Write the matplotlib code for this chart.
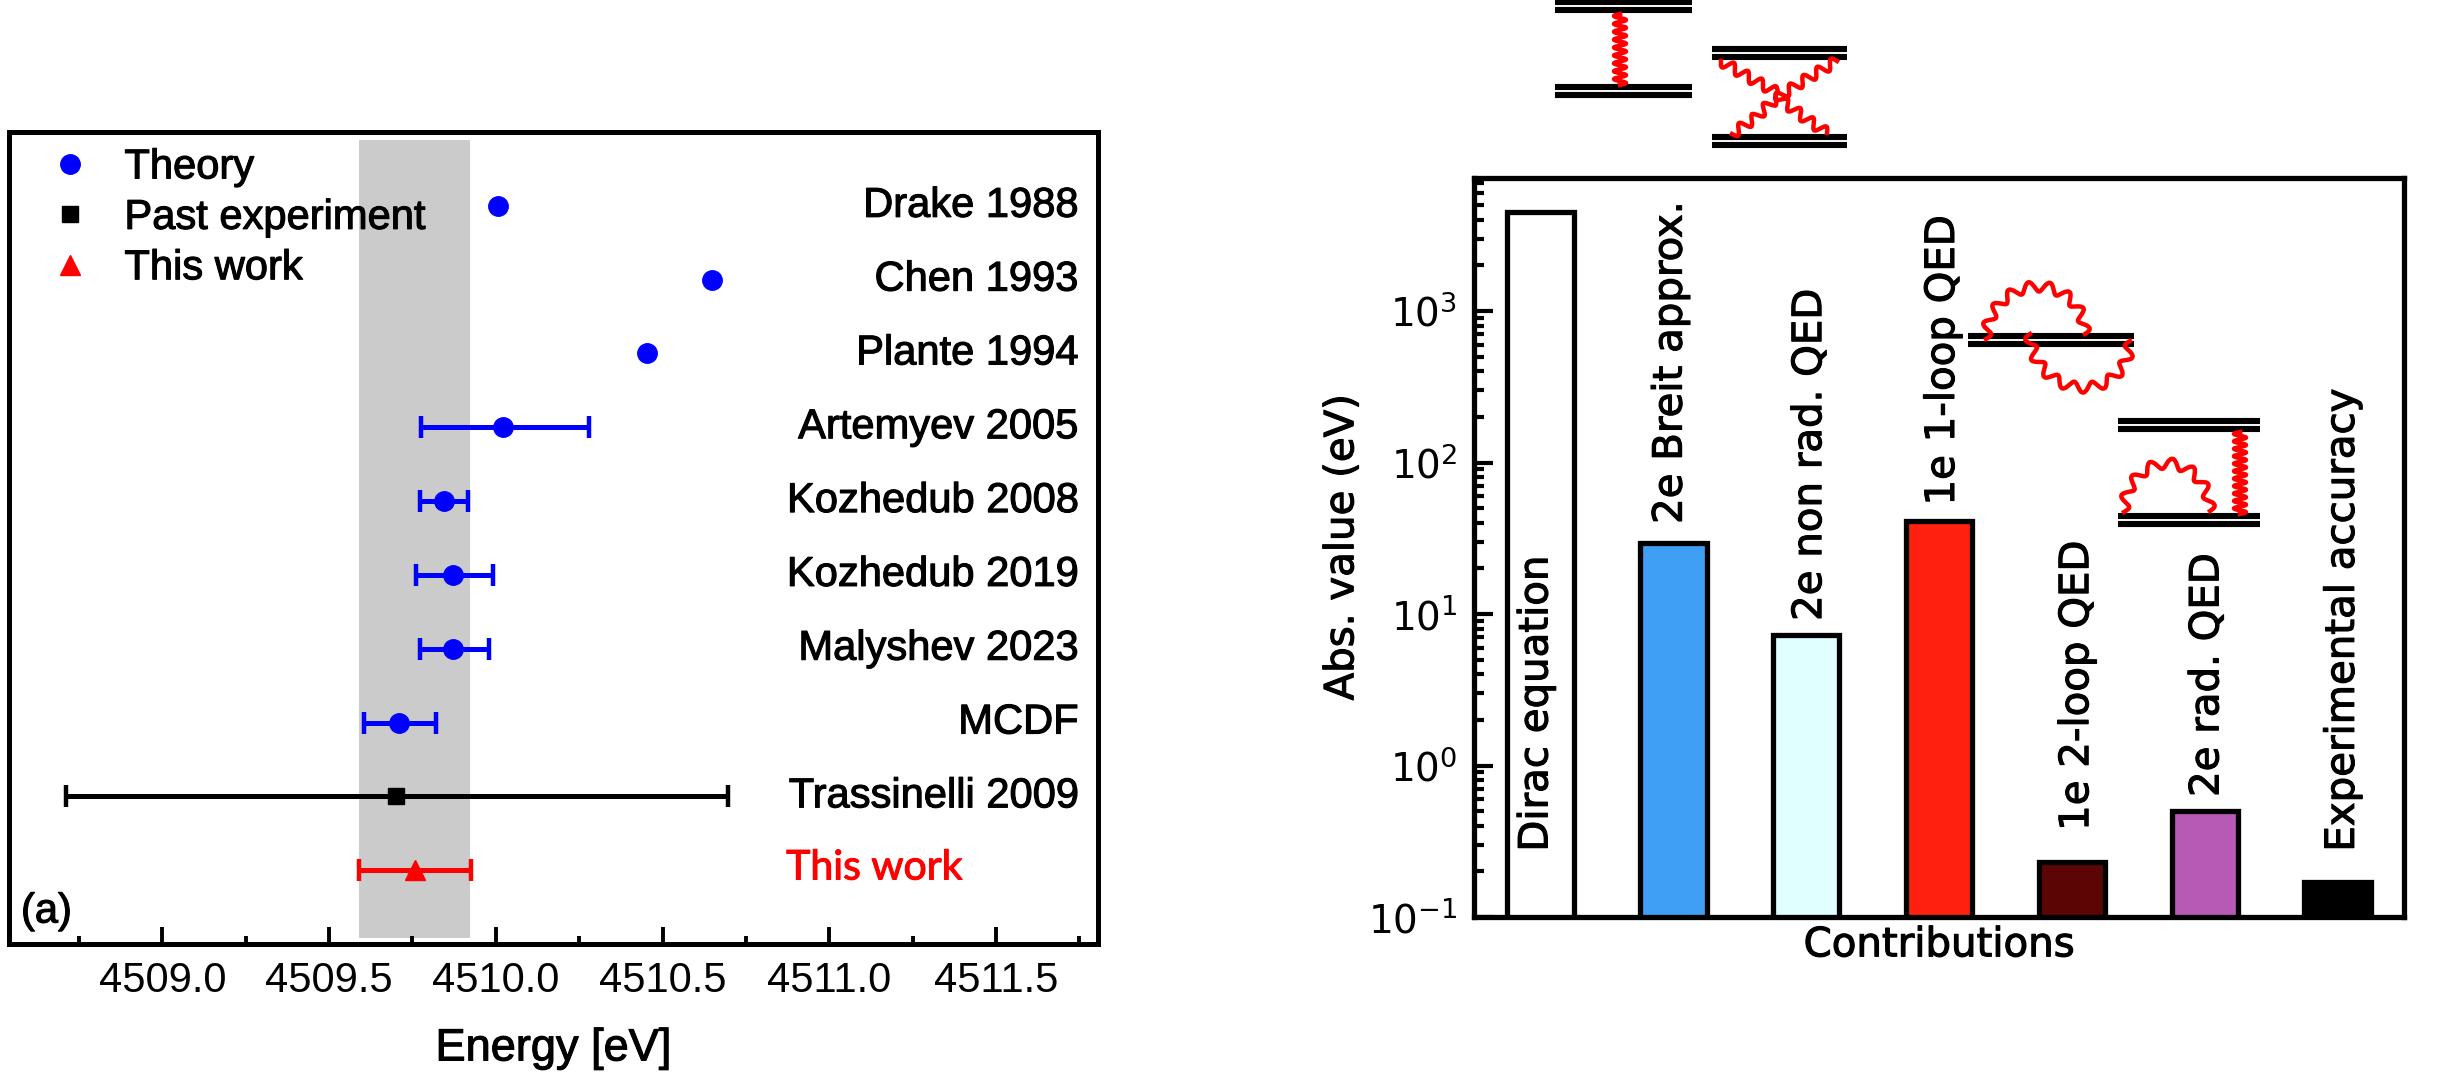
import matplotlib
matplotlib.use("Agg")
import matplotlib.pyplot as plt
from matplotlib.patheffects import withStroke
from matplotlib.text import Text
from matplotlib.ticker import FormatStrFormatter, LogLocator, MultipleLocator, NullFormatter
import numpy as np

# left panel: transition energies
ref_names = ["Drake 1988", "Chen 1993", "Plante 1994", "Artemyev 2005", "Kozhedub 2008",
             "Kozhedub 2019", "Malyshev 2023", "MCDF", "Trassinelli 2009", "This work"]
ref_energy = [4510.006, 4510.648, 4510.453, 4510.023, 4509.845,
              4509.873, 4509.873, 4509.711, 4509.700, 4509.758]
ref_low = [None, None, None, 4509.777, 4509.773, 4509.762, 4509.773, 4509.604, 4508.711, 4509.589]
ref_high = [None, None, None, 4510.280, 4509.918, 4509.991, 4509.980, 4509.822, 4510.697, 4509.927]
ref_kind = ["theory"] * 8 + ["past", "work"]
band_low = 4509.591
band_high = 4509.923

# right panel: contributions
bar_names = ["Dirac equation", "2e Breit approx.", "2e non rad. QED", "1e 1-loop QED",
             "1e 2-loop QED", "2e rad. QED", "Experimental accuracy"]
bar_values = [4500, 29.4, 7.27, 41, 0.23, 0.50, 0.169]
bar_colors = ["white", "#3f9ff5", "#e0ffff", "#ff2010", "#5c0505", "#b65ab5", "black"]

styles = {"theory": ("blue", "o", 14), "past": ("black", "s", 12), "work": ("red", "^", 14)}

W, H = 2449, 1080
fig = plt.figure(figsize=(W / 100, H / 100), dpi=100)


def px_axes(left, top, right, bottom):
    return fig.add_axes([left / W, 1 - bottom / H, (right - left) / W, (bottom - top) / H])


# ---- panel (a) ----
ax = px_axes(9, 132, 1098, 944)
SANS = "Liberation Sans"
ax.axvspan(band_low, band_high, ymin=0.008, ymax=0.99, color="#cbcbcb", lw=0, zorder=0)

y_pos = np.arange(len(ref_names), 0, -1)
for i, name in enumerate(ref_names):
    color, marker, size = styles[ref_kind[i]]
    if ref_low[i] is not None:
        ax.errorbar(ref_energy[i], y_pos[i],
                    xerr=[[ref_energy[i] - ref_low[i]], [ref_high[i] - ref_energy[i]]],
                    color=color, elinewidth=3.6, capsize=8, capthick=3.2, zorder=3)
    ax.plot(ref_energy[i], y_pos[i], marker=marker, ms=size, color=color, ls="none", zorder=4)
    if ref_kind[i] == "work":
        ax.text(0.7137, y_pos[i] + 0.03, name, color="red", fontsize=29.5, family="Lato",
                va="center", ha="left", transform=ax.get_yaxis_transform())
    else:
        ax.text(0.982, y_pos[i], name, color="black", fontsize=30, family=SANS,
                va="center", ha="right", transform=ax.get_yaxis_transform())

ax.set_xlim(4508.54, 4511.806)
ax.set_ylim(0, 11)
ax.set_yticks([])
ax.xaxis.set_major_locator(MultipleLocator(0.5))
ax.xaxis.set_minor_locator(MultipleLocator(0.25))
ax.xaxis.set_major_formatter(FormatStrFormatter("%.1f"))
ax.tick_params(axis="x", which="major", direction="in", length=12, width=2.8, pad=12,
               labelsize=30, labelfontfamily=SANS)
ax.tick_params(axis="x", which="minor", direction="in", length=6, width=2.8)
ax.set_xlabel("Energy [eV]", fontsize=32.5, family=SANS, labelpad=20)
for spine in ax.spines.values():
    spine.set_linewidth(3.6)

handles = [ax.plot([], [], marker=styles[k][1], ms=styles[k][2], color=styles[k][0], ls="none")[0]
           for k in ["theory", "past", "work"]]
ax.legend(handles, ["Theory", "Past experiment", "This work"], loc="upper left",
          bbox_to_anchor=(0.018, 0.981), frameon=False, borderaxespad=0, borderpad=0,
          handlelength=2, handletextpad=0.3, labelspacing=0.25,
          prop={"family": SANS, "size": 30})
ax.text(0.011, 0.04, "(a)", fontsize=30, family=SANS, transform=ax.transAxes, va="center")

# ---- panel (b) ----
bx = px_axes(1474, 178, 2404, 917)
x_pos = np.arange(len(bar_names))
bx.bar(x_pos, bar_values, width=0.5, log=True, color=bar_colors, edgecolor="black", linewidth=3.8)
bx.set_ylim(0.1, 7550)
bx.set_xlim(-0.5, 6.5)
bx.set_xticks([])
bx.yaxis.set_major_locator(LogLocator(base=10, numticks=10))
bx.yaxis.set_minor_locator(LogLocator(base=10, subs=np.arange(2, 10), numticks=10))
bx.yaxis.set_minor_formatter(NullFormatter())
bx.tick_params(axis="y", which="major", direction="in", length=14, width=3, pad=12, labelsize=28)
bx.tick_params(axis="y", which="minor", direction="in", length=7, width=3)
bx.set_xlabel("Contributions", fontsize=29, labelpad=6)
bx.set_ylabel("Abs. value (eV)", fontsize=29, labelpad=4)
for spine in bx.spines.values():
    spine.set_linewidth(3.8)

# bar captions, bottom edge given on the value axis
caption_x = [-0.03, -0.02, 0.03, 0.03, 0.04, 0.02, 0.04]
caption_y = [0.27, 39.3, 9.0, 52, 0.37, 0.62, 0.27]
for i, name in enumerate(bar_names):
    bx.text(x_pos[i] + caption_x[i], caption_y[i], name, rotation=90, ha="center", va="bottom",
            fontsize=29)

# the reference text is heavier than the plain font
for t in ax.findobj(Text) + bx.findobj(Text):
    if t.get_text():
        t.set_path_effects([withStroke(linewidth=0.8, foreground=t.get_color())])

# ---- Feynman diagram sketches, in figure pixels ----
ov = fig.add_axes([0, 0, 1, 1], facecolor="none")
ov.set_xlim(0, W)
ov.set_ylim(H, 0)
ov.axis("off")


def level(x0, x1, y):
    for dy in (0, 8):
        ov.plot([x0, x1], [y + dy, y + dy], color="black", lw=4.4, solid_capstyle="butt")


def wiggle(xs, ys, amp=5, waves=8):
    xs, ys = np.asarray(xs, float), np.asarray(ys, float)
    t = np.linspace(0, 1, 300)
    seg = np.r_[0, np.cumsum(np.hypot(np.diff(xs), np.diff(ys)))]
    seg = seg / seg[-1]
    px = np.interp(t, seg, xs)
    py = np.interp(t, seg, ys)
    nx, ny = -np.gradient(py), np.gradient(px)
    norm = np.hypot(nx, ny)
    off = amp * np.sin(2 * np.pi * waves * t)
    ov.plot(px + off * nx / norm, py + off * ny / norm, color="red", lw=3.2)


def arc(x0, y0, x1, y1, height):
    a = np.linspace(0, np.pi, 40)
    return x0 + (x1 - x0) * (1 - np.cos(a)) / 2, y0 + (y1 - y0) * (1 - np.cos(a)) / 2 + height * np.sin(a)


level(1555, 1692, 2)
level(1555, 1692, 87)
wiggle([1620, 1620], [14, 85], amp=6, waves=9)

level(1712, 1847, 49)
level(1712, 1847, 137)
wiggle([1721, 1750, 1776, 1784, 1805, 1827], [61, 78, 92, 102, 118, 133], amp=5, waves=8)
wiggle([1837, 1808, 1786, 1772, 1755, 1732], [61, 78, 92, 102, 118, 134], amp=5, waves=8)

level(1968, 2134, 336)
wiggle(*arc(1986, 339, 2085, 334, -50), amp=5, waves=8)
wiggle(*arc(2030, 334, 2130, 341, 50), amp=5, waves=8)

level(2118, 2260, 421)
level(2118, 2260, 516)
wiggle([2240, 2240], [432, 514], amp=6, waves=11)
wiggle(*arc(2124, 512, 2210, 511, -48), amp=5, waves=7)

fig.savefig("out.png", dpi=100)
